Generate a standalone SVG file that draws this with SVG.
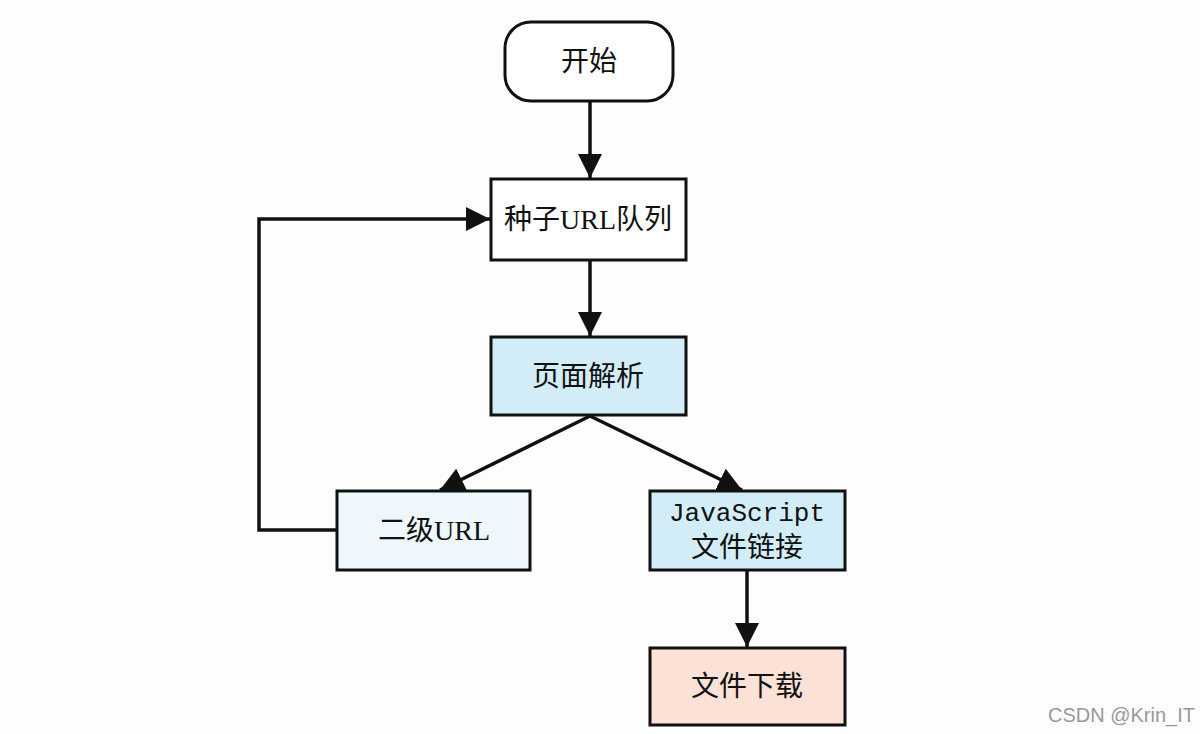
<svg xmlns="http://www.w3.org/2000/svg" width="1200" height="734" viewBox="0 0 1200 734">
<style>
.n{stroke:#111;stroke-width:3}
.t{font-family:"Liberation Serif","Noto Sans CJK SC",serif;font-size:28px;fill:#111;text-anchor:middle;dominant-baseline:central}
.c{stroke:#111;stroke-width:3.5;fill:none;marker-end:url(#a)}
</style>
<defs><marker id="a" markerWidth="8" markerHeight="8" refX="7" refY="4" orient="auto" markerUnits="userSpaceOnUse" viewBox="0 0 8 8"><path d="M0,0L8,4L0,8z" fill="#111"/></marker>
<marker id="b" viewBox="0 0 10 10" refX="10" refY="5" markerWidth="24" markerHeight="24" markerUnits="userSpaceOnUse" orient="auto"><path d="M0,0L10,5L0,10z" fill="#111"/></marker></defs>
<rect width="1200" height="734" fill="#fdfdfd"/>
<g id="connectors" style="stroke:#111;stroke-width:3.5;fill:none">
<path d="M590,101V178" marker-end="url(#b)"/>
<path d="M590,260V336" marker-end="url(#b)"/>
<path d="M590,416L440,490" marker-end="url(#b)"/>
<path d="M590,416L742,490" marker-end="url(#b)"/>
<path d="M747,570V647" marker-end="url(#b)"/>
<path d="M337,530H259V219H490" marker-end="url(#b)"/>
</g>
<g id="start"><rect class="n" x="505" y="22" width="168" height="79" rx="26" fill="#fff"/><text class="t" x="589" y="61">开始</text></g>
<g id="seed"><rect class="n" x="491" y="179" width="195" height="81" fill="#fff"/><text class="t" x="588" y="219">种子URL队列</text></g>
<g id="parse"><rect class="n" x="491" y="337" width="195" height="78" fill="#d3edf8"/><text class="t" x="588" y="376">页面解析</text></g>
<g id="url2"><rect class="n" x="337" y="491" width="193" height="79" fill="#eef8fc"/><text class="t" x="434" y="530">二级URL</text></g>
<g id="js"><rect class="n" x="650" y="491" width="195" height="79" fill="#d3edf8"/><text class="t" x="747" y="514" style="font-family:'Liberation Mono',monospace;font-size:26px">JavaScript</text><text class="t" x="747" y="547">文件链接</text></g>
<g id="dl"><rect class="n" x="650" y="648" width="195" height="77" fill="#fbe1d6"/><text class="t" x="747" y="686">文件下载</text></g>
<text x="1195" y="722" style="font-family:'Liberation Sans',sans-serif;font-size:20px;fill:#999;text-anchor:end">CSDN @Krin_IT</text>
</svg>
